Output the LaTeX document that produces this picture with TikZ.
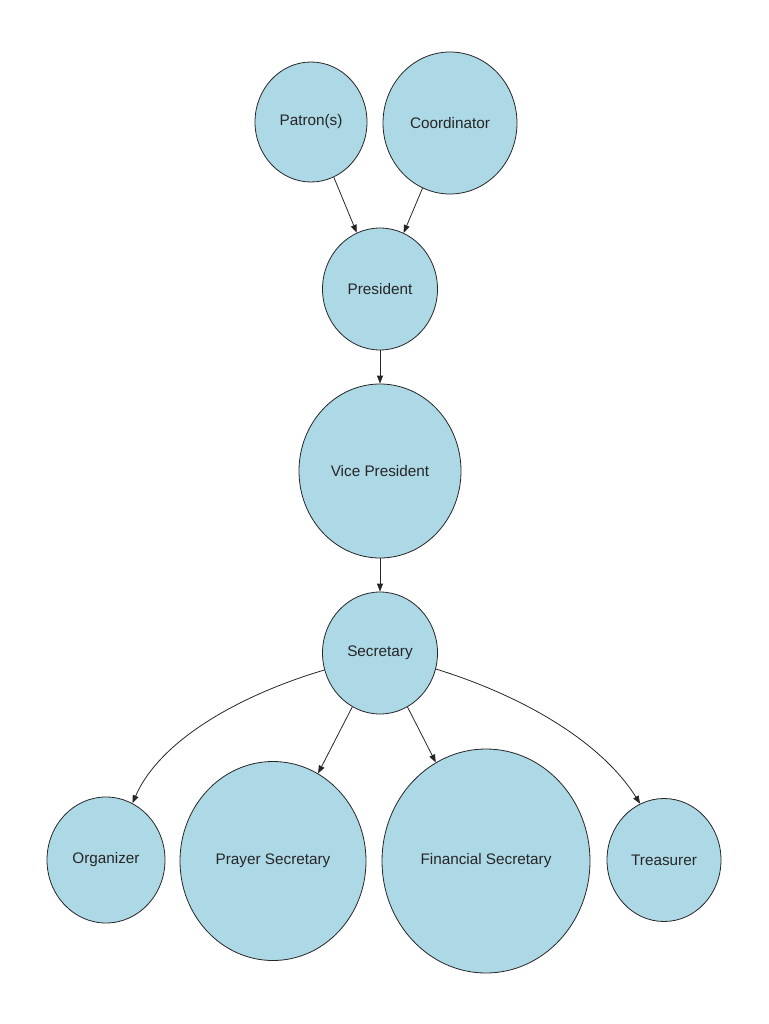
\documentclass[tikz,border=0pt]{standalone}
\usepackage{fontspec}
\setmainfont{Liberation Sans}
\usetikzlibrary{shapes.geometric,arrows.meta}
\definecolor{nodefill}{HTML}{ADD8E6}
\begin{document}
\begin{tikzpicture}[x=1pt,y=-1pt,
  bubble/.style={ellipse,draw=black!85,line width=0.8pt,fill=nodefill,inner sep=0pt,font=\fontsize{15.3}{18}\selectfont,text=black!85},
  link/.style={draw=black!85,line width=0.8pt,-{Triangle[length=8pt,width=6pt]}}]
\useasboundingbox (0,0) rectangle (768,1024);
\node[bubble,minimum width=112pt,minimum height=120pt] (pat) at (311,122) {Patron(s)};
\node[bubble,minimum width=134pt,minimum height=142pt] (coo) at (450,123) {Coordinator};
\node[bubble,minimum width=115pt,minimum height=122pt] (pre) at (380,289) {President};
\node[bubble,minimum width=162pt,minimum height=174pt] (vp) at (380,471) {Vice President};
\node[bubble,minimum width=115pt,minimum height=122pt] (sec) at (380,653) {Secretary};
\node[bubble,minimum width=118pt,minimum height=126pt] (org) at (106,860) {Organizer};
\node[bubble,minimum width=186pt,minimum height=199pt] (pra) at (273,861) {Prayer Secretary};
\node[bubble,minimum width=208pt,minimum height=224pt] (fin) at (486,861) {Financial Secretary};
\node[bubble,minimum width=114pt,minimum height=123pt] (tre) at (664,860) {Treasurer};
\draw[link] (pat) -- (pre);
\draw[link] (coo) -- (pre);
\draw[link] (pre) -- (vp);
\draw[link] (vp) -- (sec);
\draw[link] (sec.197) .. controls (240,695) and (160,740) .. (org.65);
\draw[link] (sec) -- (pra);
\draw[link] (sec) -- (fin);
\draw[link] (sec.344) .. controls (520,695) and (600,740) .. (tre.113);
\end{tikzpicture}
\end{document}
